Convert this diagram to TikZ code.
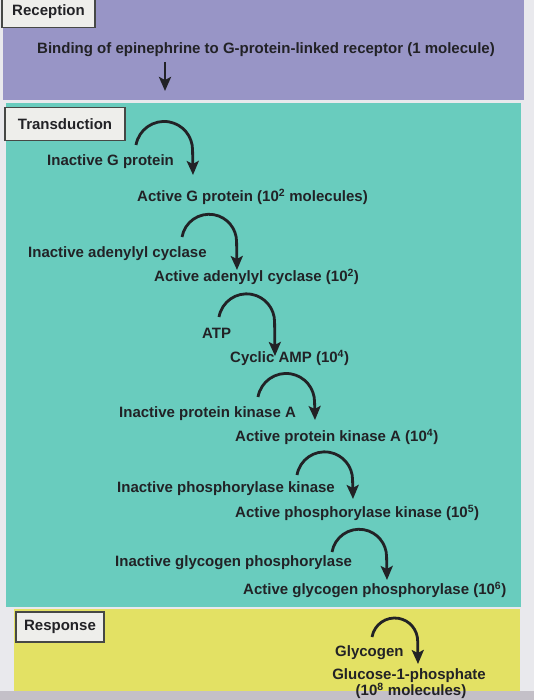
\documentclass[tikz,border=0pt]{standalone}
\usepackage{fontspec}
\setmainfont{Liberation Sans}
\usetikzlibrary{arrows.meta}
\definecolor{paper}{RGB}{233,233,237}
\definecolor{lavender}{RGB}{152,149,198}
\definecolor{teal}{RGB}{105,204,190}
\definecolor{lemon}{RGB}{227,225,100}
\definecolor{tag}{RGB}{238,238,235}
\definecolor{frame}{RGB}{70,72,70}
\definecolor{ink}{RGB}{34,34,38}
\definecolor{rim}{RGB}{196,192,200}

\begin{document}
\begin{tikzpicture}[%
      x=1pt, y=1pt,
      every node/.style={font=\fontsize{15}{18}\selectfont\bfseries, text=ink, inner sep=0pt},
      entry/.style={anchor=west},
      stage/.style={draw=frame, line width=1.3pt, fill=tag},
      relay/.style={draw=ink, line width=2.8pt, -{Stealth[length=14pt,width=12pt,inset=3pt]}},
      ]
      \useasboundingbox (0,0) rectangle (534,-700);
      \clip (0,0) rectangle (534,-700);

      % bands
      \fill [paper] (0,0) rectangle (534,-700);
      \fill [lavender] (3,0) rectangle (524,-100);
      \fill [teal] (6,-103) rectangle (521,-607);
      \fill [lemon] (14,-609) rectangle (520,-691);
      \fill [rim] (0,-691) rectangle (534,-700);

      % stage boxes
      \node [stage, minimum width=93pt, minimum height=31pt] (recept) at (48.5,-12) {Reception};
      \node [stage, minimum width=120pt, minimum height=33pt] (transd) at (65,-124) {Transduction};
      \node [stage, minimum width=88pt, minimum height=30pt] (resp) at (60,-627) {Response};

      % reception
      \node at (266,-50) (bind) {Binding of epinephrine to G-protein-linked receptor (1 molecule)};
      \coordinate (r1) at (165,-62);
      \coordinate (r2) at (165,-91);
      \draw [relay] (r1) -- (r2);

      % transduction
      \node [entry] at (47,-162) (gin) {Inactive G protein};
      \node [entry] at (137,-197) (gact) {Active G protein (10\textsuperscript{2} molecules)};
      \node [entry] at (28,-254) (acin) {Inactive adenylyl cyclase};
      \node [entry] at (154,-277) (acact) {Active adenylyl cyclase (10\textsuperscript{2})};
      \node [entry] at (202,-333) (atp) {ATP};
      \node [entry] at (230,-358) (camp) {Cyclic AMP (10\textsuperscript{4})};
      \node [entry] at (119,-414) (pkin) {Inactive protein kinase A};
      \node [entry] at (235,-437) (pkact) {Active protein kinase A (10\textsuperscript{4})};
      \node [entry] at (117,-489) (phkin) {Inactive phosphorylase kinase};
      \node [entry] at (235,-513) (phkact) {Active phosphorylase kinase (10\textsuperscript{5})};
      \node [entry] at (115,-563) (gpin) {Inactive glycogen phosphorylase};
      \node [entry] at (243,-590) (gpact) {Active glycogen phosphorylase (10\textsuperscript{6})};

      % response
      \node [entry] at (335,-653) (glyc) {Glycogen};
      \node at (409,-676) (g1p) {Glucose-1-phosphate};
      \node at (411,-691) (g1pn) {(10\textsuperscript{8} molecules)};

      % arcs
      \coordinate (s1) at (136,-145);
      \coordinate (t1) at (193,-175);
      \coordinate (s2) at (182,-237);
      \coordinate (t2) at (237,-270);
      \coordinate (s3) at (219,-317);
      \coordinate (t3) at (275,-356);
      \coordinate (s4) at (258,-397);
      \coordinate (t4) at (315,-420);
      \coordinate (s5) at (297,-475);
      \coordinate (t5) at (353,-499);
      \coordinate (s6) at (332,-552);
      \coordinate (t6) at (387,-580);
      \coordinate (s7) at (372,-637);
      \coordinate (t7) at (418,-664);
      \draw [relay] (s1) arc [start angle=170, end angle=0, radius=28.5] -- (t1);
      \draw [relay] (s2) arc [start angle=170, end angle=0, radius=27.5] -- (t2);
      \draw [relay] (s3) arc [start angle=170, end angle=0, radius=28] -- (t3);
      \draw [relay] (s4) arc [start angle=170, end angle=0, radius=28.5] -- (t4);
      \draw [relay] (s5) arc [start angle=170, end angle=0, radius=28] -- (t5);
      \draw [relay] (s6) arc [start angle=170, end angle=0, radius=27.5] -- (t6);
      \draw [relay] (s7) arc [start angle=170, end angle=0, radius=23] -- (t7);
\end{tikzpicture}
\end{document}
